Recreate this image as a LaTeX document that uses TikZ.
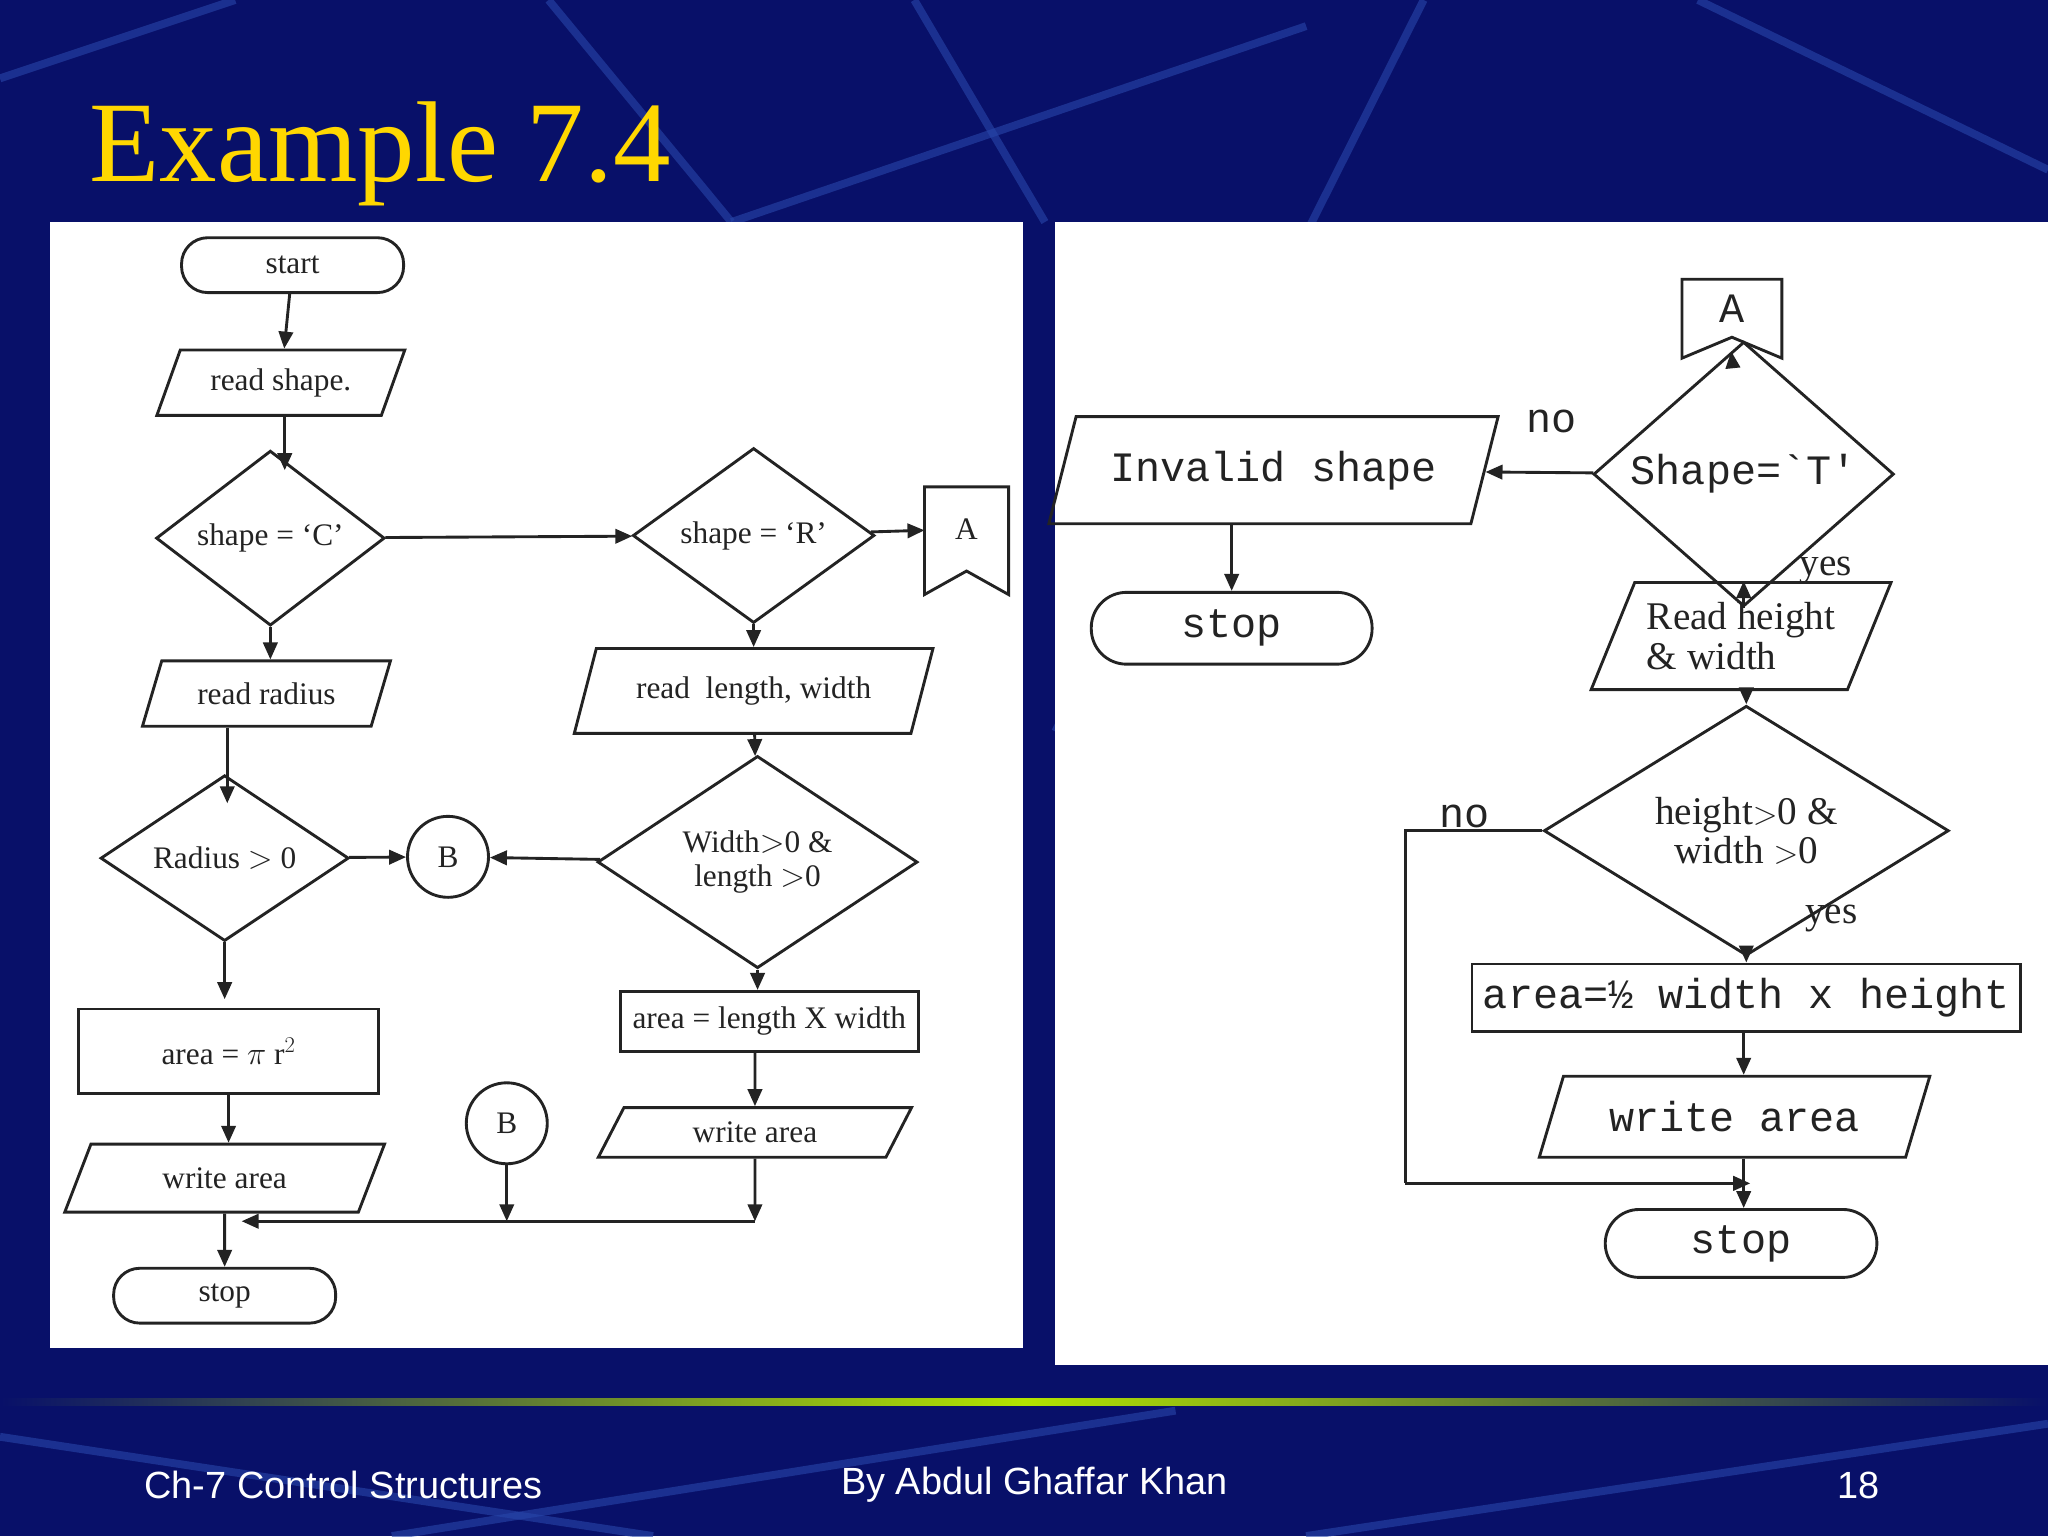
\documentclass[tikz,border=0pt]{standalone}
\usepackage{fontspec}
\setmainfont{Liberation Serif}
\newfontfamily\sansf{Liberation Sans}
\newfontfamily\monof{Liberation Mono}
\usetikzlibrary{shapes.geometric,arrows.meta}
\definecolor{bg}{RGB}{8,16,105}
\definecolor{bgl}{RGB}{40,70,170}
\definecolor{ttl}{RGB}{255,215,0}
\definecolor{ink}{RGB}{35,35,35}
\begin{document}
\begin{tikzpicture}[x=1pt,y=-1pt,
  every node/.style={text=ink},
  ln/.style={draw=ink,line width=2.2pt},
  ar/.style={ln,-{Triangle[length=13pt,width=11pt]}},
  term/.style={ln,rectangle,rounded corners=20pt,minimum width=#1,minimum height=42pt,inner sep=0},
  io/.style={ln,trapezium,trapezium left angle=60,trapezium right angle=120,trapezium stretches=true,minimum width=#1,inner sep=0},
  dec/.style={ln,diamond,inner sep=0,align=center},
  box/.style={ln,rectangle,minimum width=#1,inner sep=0},
  circ/.style={ln,circle,minimum size=62pt,inner sep=0},
  lf/.style={font=\fontsize{24}{26}\selectfont},
  rf/.style={font=\monof\fontsize{32}{34}\selectfont},
  rs/.style={font=\fontsize{30}{30}\selectfont}]
\useasboundingbox (0,0) rectangle (1568,1176);
\fill[bg] (0,0) rectangle (1568,1176);
\begin{scope}[bgl,line width=6pt,opacity=0.6]
\draw (420,0) -- (560,170);
\draw (700,0) -- (800,170);
\draw (560,170) -- (1000,20);
\draw (1090,0) -- (808,560);
\draw (0,60) -- (180,0);
\draw (1568,130) -- (1300,0);
\draw (0,1100) -- (500,1176);
\draw (300,1176) -- (900,1080);
\draw (1000,1176) -- (1568,1090);
\end{scope}
\shade[left color=bg,right color=bg,middle color=ttl!70!green] (0,1071) rectangle (1568,1076);
\node[text=ttl,anchor=west,font=\fontsize{88}{88}\selectfont] (title) at (65,118) {Example 7.4};
\node[text=white,font=\sansf\fontsize{29}{30}\selectfont] (f1) at (263,1137) {Ch-7 Control Structures};
\node[text=white,font=\sansf\fontsize{29}{30}\selectfont] (f2) at (792,1137) {By Abdul Ghaffar Khan};
\node[text=white,font=\sansf\fontsize{29}{30}\selectfont] (f3) at (1423,1137) {18};
\fill[white] (38,170) rectangle (783,1032);
\fill[white] (808,170) rectangle (1568,1045);
% left chart
\begin{scope}[lf]
\node[term=170pt] (start) at (224,203) {start};
\node[io=190pt,minimum height=50pt] (rs) at (215,293) {read shape.};
\node[dec,minimum width=175pt,minimum height=105pt] (dc) at (207,412) {shape = `C'};
\node[dec,minimum width=185pt,minimum height=85pt] (dr) at (577,410) {shape = `R'};
\node[minimum width=64pt,minimum height=64pt,inner sep=0] (A1) at (740,405) {A};
\draw[ln] (A1.north west) -- (A1.north east) -- ([yshift=-18pt]A1.south east) -- (A1.south) -- ([yshift=-18pt]A1.south west) -- cycle;
\node[io=190pt,minimum height=50pt] (rr) at (204,531) {read radius};
\node[io=275pt,minimum height=65pt] (rl) at (577,529) {read\ \ length, width};
\node[dec,minimum width=190pt,minimum height=85pt] (d0) at (172,657) {Radius $>$ 0};
\node[circ] (B1) at (343,656) {B};
\node[dec,minimum width=245pt,minimum height=105pt] (dw) at (580,660) {Width$>$0 \&\\length $>$0};
\node[box=230pt,minimum height=65pt] (ac) at (175,805) {area = $\pi$ r$^2$};
\node[box=228pt,minimum height=46pt] (al) at (589,782) {area = length X width};
\node[circ] (B2) at (388,860) {B};
\node[io=240pt,minimum height=38pt] (wr) at (578,867) {write area};
\node[io=245pt,minimum height=52pt] (wl) at (172,902) {write area};
\node[term=170pt] (stopl) at (172,992) {stop};
\end{scope}
\coordinate (j1) at (578,935);
\coordinate (j2) at (185,935);
\draw[ar] (start) -- (rs);
\draw[ar] (rs.south -| 218,0) -- (218,360);
\draw[ar] (dc) -- (dr);
\draw[ar] (dr) -- (A1);
\draw[ar] (dc.south) -- (dc.south |- rr.north);
\draw[ar] (rr.south -| 174,0) -- (174,615);
\draw[ar] (dr) -- (rl);
\draw[ar] (rl) -- (dw);
\draw[ar] (d0) -- (B1);
\draw[ar] (dw) -- (B1);
\draw[ar] (d0.south) -- (172,765);
\draw[ar] (dw.south) -- (dw.south |- al.north);
\draw[ar] (al.south -| 578,0) -- (wr.north);
\draw[ar] (ac) -- (wl.north -| ac);
\draw[ar] (wl.south) -- (stopl);
\draw[ar] (wr.south) -- (j1);
\draw[ar] (j1) -- (j2);
\draw[ar] (B2) -- (388,935);
% right chart
\node[rf,minimum width=76pt,minimum height=44pt,inner sep=0] (A2) at (1326,236) {A};
\draw[ln] (A2.north west) -- (A2.north east) -- ([yshift=-16pt]A2.south east) -- (A2.south) -- ([yshift=-16pt]A2.south west) -- cycle;
\node[dec,rf,minimum width=230pt,minimum height=105pt] (dt) at (1335,363) {Shape=`T'};
\node[io=345pt,minimum height=82pt,rf] (inv) at (975,360) {Invalid shape};
\node[term=215pt,minimum height=55pt,rf,rounded corners=27pt] (stop1) at (943,481) {stop};
\node[io=230pt,minimum height=82pt,rs,align=left] (rh) at (1333,487) {Read height\\\& width};
\node[dec,rs,minimum width=310pt,minimum height=135pt] (dh) at (1337,636) {height$>$0 \&\\width $>$0};
\node[box=420pt,minimum height=52pt,rf] (ar) at (1337,764) {area=\textonehalf\ width x height};
\node[io=300pt,minimum height=62pt,rf] (wa) at (1328,855) {write area};
\node[term=208pt,minimum height=52pt,rf,rounded corners=26pt] (stop2) at (1333,952) {stop};
\node[rf] (no1) at (1188,323) {no};
\node[rs] (y1) at (1398,437) {yes};
\node[rf] (no2) at (1121,625) {no};
\node[rs] (y2) at (1402,703) {yes};
\coordinate (c1) at (1076,636);
\coordinate (c2) at (1076,906);
\coordinate (c3) at (1340,906);
\draw[ar] ([yshift=-16pt]A2.south) -- (dt);
\draw[ar] (dt) -- (inv);
\draw[ar] (inv.south -| stop1) -- (stop1);
\draw[ar] (dt.south) -- (dt.south |- rh.north);
\draw[ar] (rh.south -| dh) -- (dh);
\draw[ar] (dh.south) -- (dh.south |- ar.north);
\draw[ar] (ar.south -| 1335,0) -- (wa.north -| 1335,0);
\draw[ar] (wa.south -| 1335,0) -- (stop2.north -| 1335,0);
\draw[ln] (dh.west) -- (c1) -- (c2);
\draw[ar] (c2) -- (c3);
\end{tikzpicture}
\end{document}
